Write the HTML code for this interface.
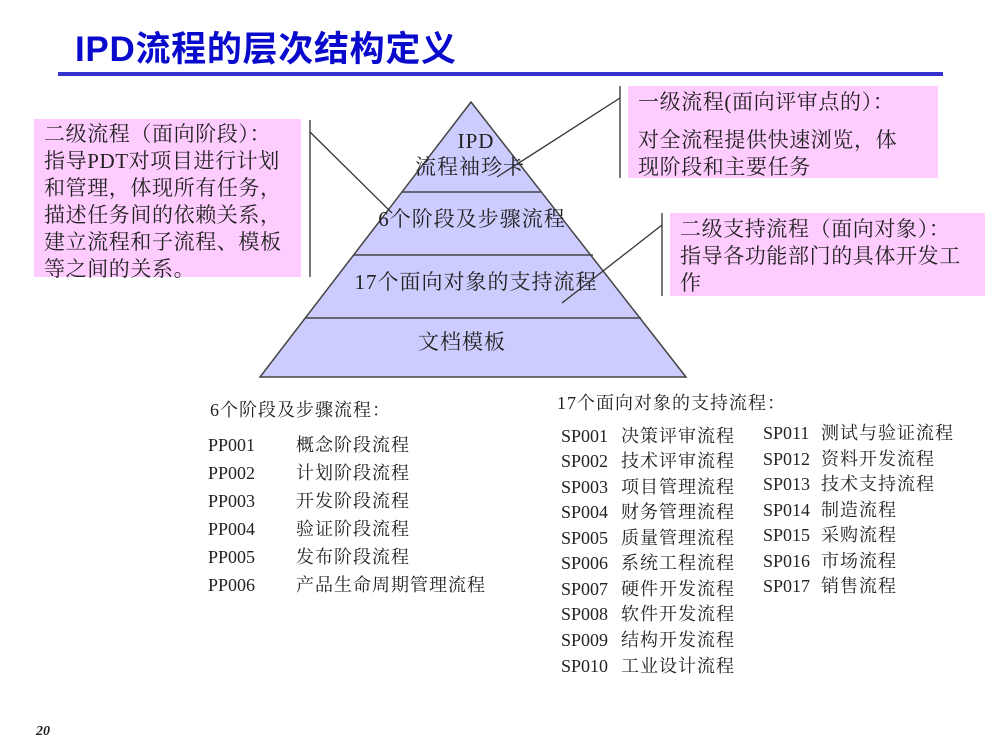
<!DOCTYPE html>
<html><head><meta charset="utf-8"><style>
html,body{margin:0;padding:0;background:#fff}
svg text{font-family:"Liberation Serif","Noto Serif CJK SC","Noto Sans CJK SC",serif;fill:#222}
</style></head><body>
<svg width="1000" height="750" viewBox="0 0 1000 750" xmlns="http://www.w3.org/2000/svg">
<text x="75" y="61" style="font-family:'Liberation Sans','Noto Sans CJK SC',sans-serif;font-weight:bold;font-size:35px;letter-spacing:0.7px;fill:#0a0acc">IPD流程的层次结构定义</text>
<rect x="58" y="72" width="885" height="4" fill="#3333cc"/>
<polygon points="471,102 686,377 260,377" fill="#ccccff" stroke="#444" stroke-width="1.5"/>
<line x1="402" y1="192" x2="542" y2="192" stroke="#444" stroke-width="1.5"/>
<line x1="354" y1="255" x2="593" y2="255" stroke="#444" stroke-width="1.5"/>
<line x1="306" y1="318" x2="641" y2="318" stroke="#444" stroke-width="1.5"/>
<g font-size="21" text-anchor="middle" letter-spacing="1">
<text x="476" y="148">IPD</text>
<text x="470" y="174">流程袖珍卡</text>
<text x="472" y="226">6个阶段及步骤流程</text>
<text x="476" y="289">17个面向对象的支持流程</text>
<text x="462" y="349">文档模板</text>
</g>
<rect x="34" y="119" width="267" height="158" fill="#ffccff"/>
<rect x="628" y="86" width="310" height="92" fill="#ffccff"/>
<rect x="670" y="213" width="315" height="83" fill="#ffccff"/>
<g stroke="#333" stroke-width="1.3">
<line x1="310" y1="120" x2="310" y2="277"/>
<line x1="310" y1="132" x2="392" y2="213"/>
<line x1="620" y1="86" x2="620" y2="178"/>
<line x1="620" y1="98" x2="497" y2="177"/>
<line x1="662" y1="213" x2="662" y2="296"/>
<line x1="662" y1="225" x2="562" y2="303"/>
</g>
<g font-size="21" letter-spacing="0.6">
<text x="44" y="141">二级流程（面向阶段）：</text>
<text x="44" y="168">指导PDT对项目进行计划</text>
<text x="44" y="195">和管理，体现所有任务，</text>
<text x="44" y="222">描述任务间的依赖关系，</text>
<text x="44" y="249">建立流程和子流程、模板</text>
<text x="44" y="276">等之间的关系。</text>
<text x="638" y="109">一级流程(面向评审点的）：</text>
<text x="638" y="147">对全流程提供快速浏览，体</text>
<text x="638" y="174">现阶段和主要任务</text>
<text x="680" y="236">二级支持流程（面向对象）：</text>
<text x="680" y="263">指导各功能部门的具体开发工</text>
<text x="680" y="290">作</text>
</g>
<g font-size="18" letter-spacing="1">
<text x="210" y="416">6个阶段及步骤流程：</text>
<text x="296" y="451">概念阶段流程</text>
<text x="296" y="479">计划阶段流程</text>
<text x="296" y="507">开发阶段流程</text>
<text x="296" y="535">验证阶段流程</text>
<text x="296" y="563">发布阶段流程</text>
<text x="296" y="591">产品生命周期管理流程</text>
<text x="557" y="409">17个面向对象的支持流程：</text>
<text x="621" y="442">决策评审流程</text>
<text x="621" y="467">技术评审流程</text>
<text x="621" y="493">项目管理流程</text>
<text x="621" y="518">财务管理流程</text>
<text x="621" y="544">质量管理流程</text>
<text x="621" y="569">系统工程流程</text>
<text x="621" y="595">硬件开发流程</text>
<text x="621" y="620">软件开发流程</text>
<text x="621" y="646">结构开发流程</text>
<text x="621" y="672">工业设计流程</text>
<text x="821" y="439">测试与验证流程</text>
<text x="821" y="465">资料开发流程</text>
<text x="821" y="490">技术支持流程</text>
<text x="821" y="516">制造流程</text>
<text x="821" y="541">采购流程</text>
<text x="821" y="567">市场流程</text>
<text x="821" y="592">销售流程</text>
</g>
<g font-size="18">
<text x="208" y="451">PP001</text>
<text x="208" y="479">PP002</text>
<text x="208" y="507">PP003</text>
<text x="208" y="535">PP004</text>
<text x="208" y="563">PP005</text>
<text x="208" y="591">PP006</text>
<text x="561" y="442">SP001</text>
<text x="561" y="467">SP002</text>
<text x="561" y="493">SP003</text>
<text x="561" y="518">SP004</text>
<text x="561" y="544">SP005</text>
<text x="561" y="569">SP006</text>
<text x="561" y="595">SP007</text>
<text x="561" y="620">SP008</text>
<text x="561" y="646">SP009</text>
<text x="561" y="672">SP010</text>
<text x="763" y="439">SP011</text>
<text x="763" y="465">SP012</text>
<text x="763" y="490">SP013</text>
<text x="763" y="516">SP014</text>
<text x="763" y="541">SP015</text>
<text x="763" y="567">SP016</text>
<text x="763" y="592">SP017</text>
</g>
<text x="36" y="735" font-size="14" font-weight="bold" font-style="italic">20</text>
</svg>
</body></html>
